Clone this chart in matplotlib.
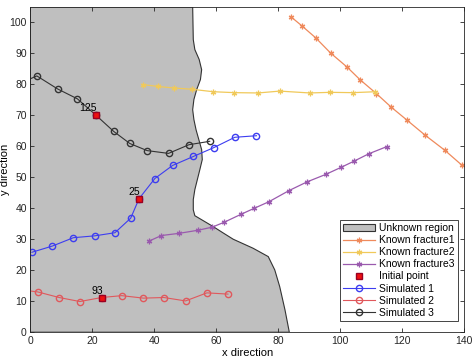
import matplotlib
matplotlib.use('Agg')

import matplotlib.pyplot as plt

plt.rcParams['font.family'] = ['Liberation Sans', 'DejaVu Sans']

# unknown region boundary (right edge), top to bottom
bound_x = [52.4, 52.6, 53.1, 54.5, 55.3, 54.9, 53.7, 52.8, 52.4, 52.8, 53.5, 54.4, 55.3, 55.5,
           54.7, 53.9, 53.1, 52.6, 52.6, 53.1, 56.3, 59.0, 62.3, 65.5, 71.9, 76.8, 78.9, 80.5, 82.2, 83.6]
bound_y = [105, 94.4, 91.2, 88.0, 84.7, 81.5, 78.3, 75.1, 71.8, 68.6, 65.3, 62.1, 58.9, 55.7,
           52.4, 49.2, 46.0, 42.8, 39.5, 37.6, 35.7, 34.1, 32.0, 30.0, 27.1, 24.4, 20.1, 14.7, 7.2, 0]

frac1_x = [84.1, 87.6, 92.1, 96.9, 102.3, 106.4, 111.7, 116.4, 121.5, 127.4, 133.8, 139.3]
frac1_y = [101.8, 98.9, 95.0, 90.1, 85.5, 81.5, 77.0, 72.7, 68.5, 63.6, 58.7, 53.9]

frac2_x = [36.5, 41.1, 46.4, 52.1, 59.0, 65.9, 73.5, 80.5, 90.2, 96.8, 104.2, 111.4]
frac2_y = [79.9, 79.3, 78.8, 78.4, 77.6, 77.3, 77.2, 77.8, 77.2, 77.4, 77.3, 77.6]

frac3_x = [38.3, 42.3, 48.0, 54.1, 58.7, 62.6, 67.9, 72.3, 77.0, 83.5, 89.3, 95.3, 100.3, 104.5, 109.3, 115.1]
frac3_y = [29.4, 31.2, 31.9, 32.9, 33.9, 35.5, 38.0, 40.0, 42.1, 45.7, 48.5, 50.9, 53.2, 55.2, 57.6, 59.9]

sim1_x = [0.5, 7.1, 13.9, 20.8, 27.3, 32.4, 35.1, 40.2, 45.9, 52.6, 59.3, 66.0, 73.0]
sim1_y = [25.8, 27.8, 30.5, 31.1, 32.1, 36.8, 43.1, 49.6, 53.8, 56.7, 59.6, 62.9, 63.4]

sim2_x = [-4.0, 2.4, 9.3, 16.0, 23.0, 29.5, 36.5, 43.1, 50.1, 57.0, 63.8]
sim2_y = [13.8, 13.0, 11.2, 9.9, 11.2, 11.8, 11.0, 11.2, 10.1, 12.7, 12.3]

sim3_x = [-4.0, 2.1, 8.8, 15.2, 21.1, 26.9, 32.1, 37.7, 44.6, 51.2, 57.9]
sim3_y = [80.0, 82.7, 78.5, 75.3, 70.1, 64.8, 60.9, 58.6, 57.7, 60.5, 61.6]

init_x = [35.1, 21.1, 23.0]
init_y = [43.1, 70.1, 11.2]
init_labels = ['25', '125', '93']

fig = plt.figure(figsize=(4.74, 3.58), dpi=100)
ax = fig.add_axes([0.064, 0.072, 0.915, 0.909])

poly_x = [0, 0] + bound_x
poly_y = [0, 105] + bound_y
region = ax.fill(poly_x, poly_y, facecolor='#bfbfbf', edgecolor='#333333', linewidth=0.8,
                 label='Unknown region')[0]

ast = (6, 2, 0)  # asterisk marker
f1, = ax.plot(frac1_x, frac1_y, '-', marker=ast, color='#ef8a5c', lw=0.9, ms=4, mew=0.9, label='Known fracture1')
f2, = ax.plot(frac2_x, frac2_y, '-', marker=ast, color='#f0c95a', lw=0.9, ms=4, mew=0.9, label='Known fracture2')
f3, = ax.plot(frac3_x, frac3_y, '-', marker=ast, color='#9a5aae', lw=0.9, ms=4, mew=0.9, label='Known fracture3')

s1, = ax.plot(sim1_x, sim1_y, '-o', color='#3d3df0', mfc='none', lw=0.8, ms=4.5, label='Simulated 1')
s2, = ax.plot(sim2_x, sim2_y, '-o', color='#e0585c', mfc='none', lw=0.8, ms=4.5, label='Simulated 2')
s3, = ax.plot(sim3_x, sim3_y, '-o', color='#333333', mfc='none', lw=0.8, ms=4.5, label='Simulated 3')

ip, = ax.plot(init_x, init_y, 's', color='#ee1111', mec='#990022', ms=5, ls='none', label='Initial point')
for x, y, t in zip(init_x, init_y, init_labels):
    ax.text(x + 0.4, y + 0.6, t, ha='right', va='bottom', fontsize=7.5)

ax.set_xlim(0, 140)
ax.set_ylim(0, 105)
ax.set_xticks(range(0, 141, 20))
ax.set_yticks(range(0, 101, 10))
ax.tick_params(direction='in', top=True, right=True, labelsize=7.5, length=3, width=0.6,
               colors='#262626', pad=2.5)
for s in ax.spines.values():
    s.set_linewidth(0.6)
    s.set_color('#262626')

ax.set_xlabel('x direction', fontsize=8)
ax.set_ylabel('y direction', fontsize=8)
ax.xaxis.set_label_coords(0.5, -0.047)
ax.yaxis.set_label_coords(-0.048, 0.5)

leg = ax.legend(handles=[region, f1, f2, f3, ip, s1, s2, s3], loc='lower right',
                bbox_to_anchor=(0.985, 0.035), fontsize=7.5, fancybox=False,
                edgecolor='#262626', framealpha=1, borderpad=0.3, labelspacing=0.2,
                handlelength=3.0, handletextpad=0.4, borderaxespad=0)
leg.get_frame().set_linewidth(0.6)

plt.savefig('out.png', dpi=100)
